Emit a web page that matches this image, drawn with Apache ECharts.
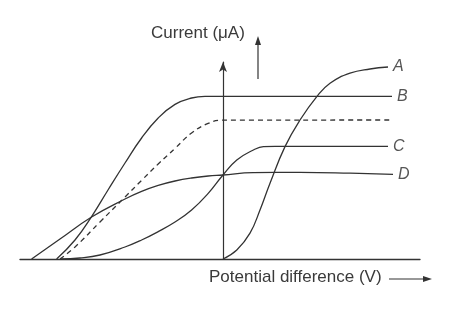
<!DOCTYPE html>
<html>
<head>
<meta charset="utf-8">
<title>Current vs potential difference</title>
<script src="https://cdn.jsdelivr.net/npm/echarts@6/dist/echarts.min.js"></script>
<style>
  html, body { margin: 0; padding: 0; background: #fff; }
  #chart { width: 474px; height: 313px; }
</style>
</head>
<body>
<div id="chart"></div>
<script>
// potential difference (arbitrary units, 0 at the current axis) / current (arbitrary units)
var curveA = [[0,0],[0.69,0.45],[1.35,1.29],[1.85,2.45],[2.35,3.79],[3.1,5.62],[3.85,6.95],[4.69,8.12],[5.35,8.79],[6.35,9.29],[7.35,9.5],[8.25,9.6]];
var curveB = [[-8.32,0],[-7.4,0.95],[-6.57,2.12],[-5.75,3.45],[-4.9,4.8],[-4.07,6.05],[-3.24,7.05],[-2.4,7.73],[-1.57,8.05],[-0.9,8.13],[8.45,8.13]];
var curveDashed = [[-8.15,0],[-7.4,0.6],[-6.15,1.85],[-4.9,3.1],[-4.07,3.93],[-3.24,4.75],[-2.4,5.53],[-1.57,6.3],[-0.74,6.78],[-0.07,6.94],[8.35,6.95]];
var curveC = [[-8.15,0],[-7.15,0.05],[-6.15,0.2],[-4.9,0.6],[-4.07,0.95],[-3.24,1.37],[-2.4,1.85],[-1.57,2.45],[-0.74,3.28],[0,4.2],[0.69,4.95],[1.52,5.45],[2.02,5.62],[2.6,5.63],[8.25,5.63]];
var curveD = [[-9.57,0],[-8.15,1.0],[-6.57,2.1],[-4.9,3.0],[-4.07,3.38],[-3.24,3.68],[-2.4,3.9],[-1.57,4.05],[-0.74,4.15],[0,4.2],[1.5,4.32],[3.85,4.33],[6.35,4.29],[8.5,4.23]];
var curveNames = ['A', 'B', 'C', 'D'];

var lineColor = '#333';
var textColor = '#3a3a3a';
var font = '"Liberation Sans", Arial, sans-serif';

function curve(name, data, dashed) {
  return {
    name: name,
    type: 'line',
    data: data,
    smooth: 0.45,
    showSymbol: false,
    lineStyle: { color: lineColor, width: 1.3, type: dashed ? [5, 4] : 'solid' },
    endLabel: dashed ? { show: false } : {
      show: true,
      formatter: name,
      fontStyle: 'italic',
      fontSize: 16,
      fontFamily: font,
      color: '#555',
      distance: 5
    }
  };
}

var chart = echarts.init(document.getElementById('chart'));
var option = {
  animation: false,
  backgroundColor: '#fff',
  grid: { left: 20, width: 400, top: 62, bottom: 54 },
  xAxis: {
    type: 'value',
    min: -10.15,
    max: 9.85,
    axisLine: { onZero: true, lineStyle: { color: lineColor, width: 1.3 } },
    axisTick: { show: false },
    axisLabel: { show: false },
    splitLine: { show: false }
  },
  yAxis: {
    type: 'value',
    min: 0,
    max: 9.85,
    axisLine: {
      show: true,
      onZero: true,
      symbol: ['none', 'arrow'],
      symbolSize: [6, 10],
      lineStyle: { color: lineColor, width: 1.2 }
    },
    axisTick: { show: false },
    axisLabel: { show: false },
    splitLine: { show: false }
  },
  series: [
    curve(curveNames[0], curveA),
    curve(curveNames[1], curveB),
    curve('dashed', curveDashed, true),
    curve(curveNames[2], curveC),
    curve(curveNames[3], curveD)
  ],
  graphic: [
    { type: 'text', left: 151, top: 25,
      style: { text: 'Current (\u03bcA)', fontSize: 17, fontFamily: font, fill: textColor } },
    { type: 'line', shape: { x1: 258, y1: 79, x2: 258, y2: 43 }, style: { stroke: lineColor, lineWidth: 1.2 } },
    { type: 'polygon', shape: { points: [[258, 36], [255, 45], [261, 45]] }, style: { fill: lineColor } },
    { type: 'text', left: 209, top: 269,
      style: { text: 'Potential difference (V)', fontSize: 17, fontFamily: font, fill: textColor } },
    { type: 'line', shape: { x1: 389, y1: 279, x2: 425, y2: 279 }, style: { stroke: lineColor, lineWidth: 1.2 } },
    { type: 'polygon', shape: { points: [[432, 279], [423, 276], [423, 282]] }, style: { fill: lineColor } }
  ]
};
chart.setOption(option);
window.addEventListener('resize', function () { chart.resize(); });
</script>
</body>
</html>
